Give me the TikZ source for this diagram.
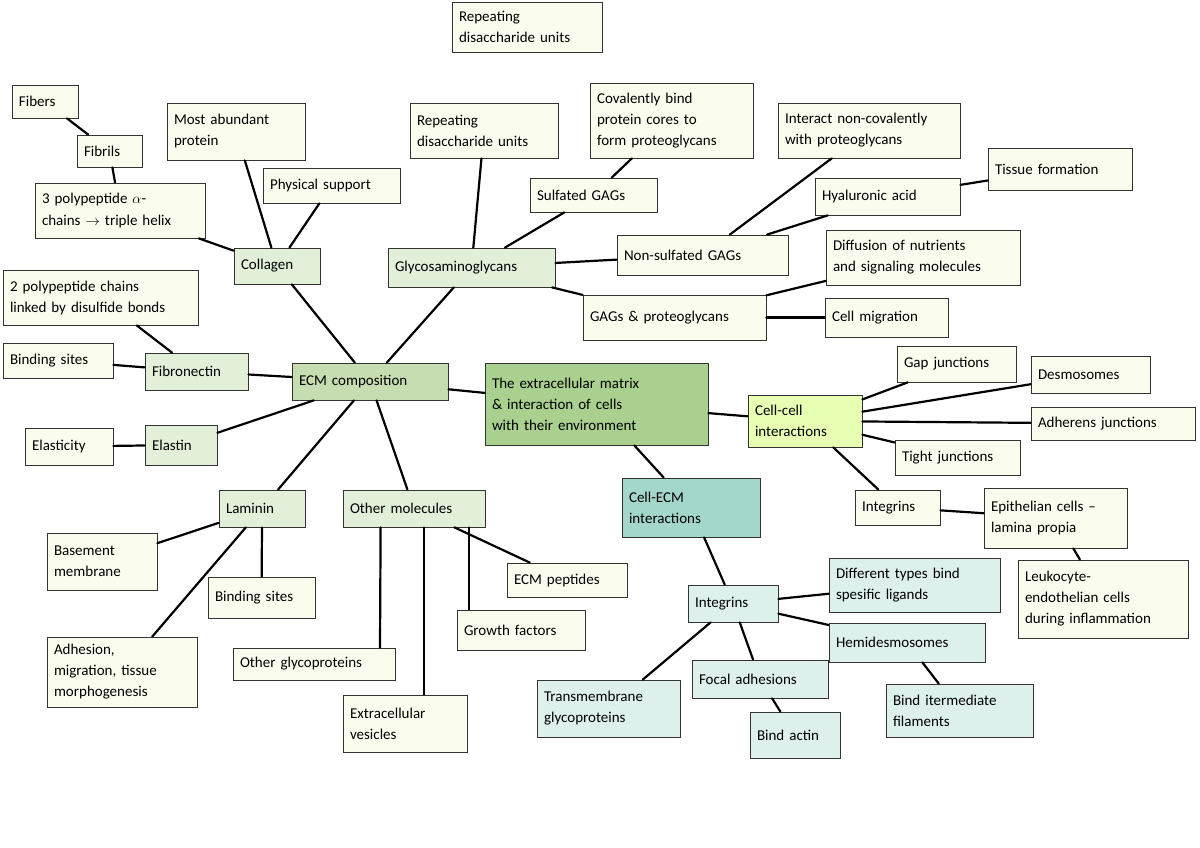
\documentclass[tikz,border=0pt]{standalone}
\usepackage{fontspec}
\setmainfont{Carlito}
\usetikzlibrary{positioning}
\definecolor{leaffill}{HTML}{FAFDEE}
\definecolor{midfill}{HTML}{E2EFD9}
\definecolor{ecmfill}{HTML}{C5DDB0}
\definecolor{mainfill}{HTML}{A9D08E}
\definecolor{ccfill}{HTML}{E6FFB3}
\definecolor{cefill}{HTML}{A3D7CB}
\definecolor{tealfill}{HTML}{DDF0EC}
\tikzset{
  box/.style={rectangle, draw=black!80, line width=0.8pt, align=left, inner xsep=7pt, inner ysep=2pt, font=\fontsize{15}{21}\selectfont},
  leaf/.style={box, fill=leaffill},
  mid/.style={box, fill=midfill},
  teal/.style={box, fill=tealfill},
  sz/.style 2 args={minimum width=#1pt, minimum height=#2pt, text width=\the\dimexpr#1pt-14pt\relax},
  link/.style={line width=2.2pt, line cap=round}
}
\begin{document}
\begin{tikzpicture}[x=1pt, y=-1pt]
    \useasboundingbox (0,0) rectangle (1200,848);
    % ECM composition branch
    \node [leaf, sz={150}{50}] (rep0) at (527,27) {Repeating\\disaccharide units};
    \node [leaf, sz={66}{33}] (fibers) at (45,101.5) {Fibers};
    \node [leaf, sz={65}{32}] (fibrils) at (109.5,151) {Fibrils};
    \node [leaf, sz={138}{57}] (abund) at (236,131.5) {Most abundant\\protein};
    \node [leaf, sz={137}{35}] (phys) at (331.5,185.5) {Physical support};
    \node [leaf, sz={170}{55}] (helix) at (120,210.5) {3 polypeptide $\alpha$-\\chains $\rightarrow$ triple helix};
    \node [mid, sz={86}{36}] (collagen) at (277,266) {Collagen};
    \node [leaf, sz={195}{55}] (disulf) at (100.5,297.5) {2 polypeptide chains\\linked by disulfide bonds};
    \node [leaf, sz={110}{35}] (bindA) at (58,360.5) {Binding sites};
    \node [mid, sz={103}{37}] (fibro) at (196.5,371.5) {Fibronectin};
    \node [box, fill=ecmfill, sz={156}{37}] (ecm) at (370,381.5) {ECM composition};
    \node [mid, sz={72}{40}] (elastin) at (181,445) {Elastin};
    \node [leaf, sz={88}{37}] (elasticity) at (69,446.5) {Elasticity};
    \node [mid, sz={86}{37}] (laminin) at (262,508.5) {Laminin};
    \node [leaf, sz={110}{57}] (basement) at (102,561.5) {Basement\\membrane};
    \node [leaf, sz={107}{41}] (bindB) at (261.5,597.5) {Binding sites};
    \node [leaf, sz={150}{70}] (adhesion) at (122,672) {Adhesion,\\migration, tissue\\morphogenesis};
    \node [mid, sz={142}{37}] (other) at (414,508.5) {Other molecules};
    \node [leaf, sz={120}{34}] (peptides) at (567,580) {ECM peptides};
    \node [leaf, sz={128}{40}] (growth) at (521,630) {Growth factors};
    \node [leaf, sz={162}{32}] (otherglyco) at (314,664) {Other glycoproteins};
    \node [leaf, sz={124}{57}] (vesicles) at (405,723.5) {Extracellular\\vesicles};
    % GAG branch
    \node [mid, sz={167}{39}] (gags) at (471.5,267.5) {Glycosaminoglycans};
    \node [leaf, sz={148}{55}] (rep) at (484,130.5) {Repeating\\disaccharide units};
    \node [leaf, sz={127}{34}] (sulf) at (593.5,195) {Sulfated GAGs};
    \node [leaf, sz={163}{75}] (coval) at (671.5,120.5) {Covalently bind\\protein cores to\\form proteoglycans};
    \node [leaf, sz={171}{40}] (nonsulf) at (702.5,255) {Non-sulfated GAGs};
    \node [leaf, sz={182}{55}] (interact) at (869,130.5) {Interact non-covalently\\with proteoglycans};
    \node [leaf, sz={145}{37}] (hyal) at (887.5,196.5) {Hyaluronic acid};
    \node [leaf, sz={144}{42}] (tissue) at (1060,169) {Tissue formation};
    \node [leaf, sz={183}{45}] (gagsprot) at (674.5,317.5) {GAGs \& proteoglycans};
    \node [leaf, sz={194}{55}] (diff) at (923,257.5) {Diffusion of nutrients\\and signaling molecules};
    \node [leaf, sz={123}{39}] (cellmig) at (886.5,317.5) {Cell migration};
    % centre
    \node [box, fill=mainfill, sz={223}{82}] (main) at (596.5,404) {The extracellular matrix\\\& interaction of cells\\with their environment};
    % cell-cell branch
    \node [box, fill=ccfill, sz={114}{52}] (cellcell) at (805,421) {Cell-cell\\interactions};
    \node [leaf, sz={119}{36}] (gap) at (956.5,364) {Gap junctions};
    \node [leaf, sz={119}{37}] (desmo) at (1090.5,374.5) {Desmosomes};
    \node [leaf, sz={164}{33}] (adherens) at (1113,423.5) {Adherens junctions};
    \node [leaf, sz={125}{35}] (tight) at (957.5,457.5) {Tight junctions};
    \node [leaf, sz={85}{35}] (integA) at (897.5,507.5) {Integrins};
    \node [leaf, sz={143}{60}] (epith) at (1055.5,518) {Epithelian cells --\\lamina propia};
    \node [leaf, sz={170}{78}] (leuko) at (1103,599) {Leukocyte-\\endothelian cells\\during inflammation};
    % cell-ECM branch
    \node [box, fill=cefill, sz={138}{59}] (cellecm) at (691,507.5) {Cell-ECM\\interactions};
    \node [teal, sz={90}{37}] (integB) at (733,603.5) {Integrins};
    \node [teal, sz={171}{54}] (different) at (914.5,585) {Different types bind\\spesific ligands};
    \node [teal, sz={156}{39}] (hemi) at (907,642.5) {Hemidesmosomes};
    \node [teal, sz={147}{53}] (binditer) at (959.5,710.5) {Bind itermediate\\filaments};
    \node [teal, sz={136}{38}] (focal) at (760,679) {Focal adhesions};
    \node [teal, sz={90}{46}] (bindactin) at (795,735) {Bind actin};
    \node [teal, sz={143}{57}] (transm) at (608.5,708.5) {Transmembrane\\glycoproteins};

    \draw [link] (fibers) -- (fibrils);
    \draw [link] (fibrils) -- (helix);
    \draw [link] (helix) -- (collagen);
    \draw [link] (abund) -- (collagen);
    \draw [link] (phys) -- (collagen);
    \draw [link] (collagen) -- (ecm);
    \draw [link] (disulf) -- (fibro);
    \draw [link] (bindA) -- (fibro);
    \draw [link] (fibro) -- (ecm);
    \draw [link] (elasticity) -- (elastin);
    \draw [link] (elastin) -- (ecm);
    \draw [link] (ecm) -- (laminin);
    \draw [link] (laminin) -- (basement);
    \draw [link] (laminin.south) -- (bindB);
    \draw [link] (laminin) -- (adhesion);
    \draw [link] (ecm) -- (other);
    \draw [link] (other.south west) ++(38,0) -- (otherglyco.north -| 380,0);
    \draw [link] (other.south) ++(10,0) coordinate (o1) -- (vesicles.north -| o1);
    \draw [link] (other.south) ++(55,0) coordinate (o2) -- (growth.north -| o2);
    \draw [link] (other) -- (peptides);
    \draw [link] (ecm) -- (gags);
    \draw [link] (ecm) -- (main);
    \draw [link] (gags) -- (rep);
    \draw [link] (gags) -- (sulf);
    \draw [link] (sulf) -- (coval);
    \draw [link] (gags) -- (nonsulf);
    \draw [link] (gags) -- (gagsprot);
    \draw [link] (nonsulf) -- (interact);
    \draw [link] (nonsulf) -- (hyal);
    \draw [link] (hyal) -- (tissue);
    \draw [link] (gagsprot) -- (diff);
    \draw [link] (gagsprot) -- (cellmig);
    \draw [link] (main) -- (cellcell);
    \draw [link] (main) -- (cellecm);
    \draw [link] (cellcell) -- (gap);
    \draw [link] (cellcell) -- (desmo);
    \draw [link] (cellcell) -- (adherens);
    \draw [link] (cellcell) -- (tight);
    \draw [link] (cellcell) -- (integA);
    \draw [link] (integA) -- (epith);
    \draw [link] (epith) -- (leuko);
    \draw [link] (cellecm) -- (integB);
    \draw [link] (integB) -- (different);
    \draw [link] (integB) -- (hemi);
    \draw [link] (integB) -- (focal);
    \draw [link] (integB) -- (transm);
    \draw [link] (focal) -- (bindactin);
    \draw [link] (hemi) -- (binditer);
\end{tikzpicture}
\end{document}
